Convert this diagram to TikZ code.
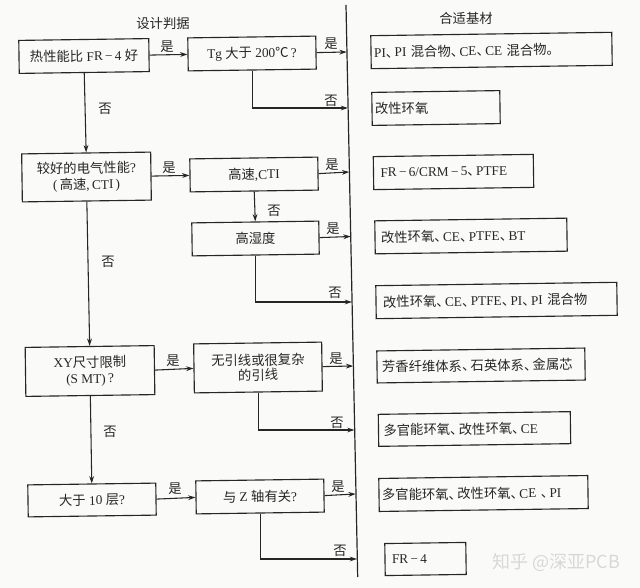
\documentclass[tikz,border=0pt]{standalone}
\usepackage{fontspec}
\setmainfont{Liberation Serif}
\newfontfamily\cjk{Noto Sans CJK SC}
\newfontfamily\wmfont{Noto Sans CJK SC}
\usetikzlibrary{arrows.meta}
\definecolor{ink}{HTML}{262626}
\definecolor{paper}{HTML}{FAFAF8}
\definecolor{wmark}{HTML}{D8D8D8}
\newcommand\zh[1]{{\cjk #1}}
\newcommand\dun{{\cjk 、}\kern-0.35em}
\tikzset{
  box/.style n args={2}{draw=ink,line width=0.85pt,rectangle,inner sep=0pt,rotate=0.8,align=center,text=ink,
    minimum width=#1*0.75pt,minimum height=#2*0.75pt,font=\fontsize{10}{12}\selectfont},
  rbox/.style n args={3}{draw=ink,line width=0.85pt,rectangle,inner ysep=0pt,inner xsep=#3*0.75pt,rotate=0.8,align=left,text=ink,
    text width=(#1-2*#3)*0.75pt,minimum height=#2*0.75pt,font=\fontsize{10}{12}\selectfont},
  lab/.style={text=ink,inner sep=0pt,font=\fontsize{10}{12}\selectfont},
  conn/.style={draw=ink,line width=0.8pt,-{Stealth[length=5.5pt,width=3.6pt]}},
  spine/.style={draw=ink,line width=0.9pt}
}
\begin{document}
\begin{tikzpicture}[x=0.75pt,y=-0.75pt]
\fill[paper] (0,0) rectangle (640,588);
\useasboundingbox (0,0) rectangle (640,588);
% headers
\node[lab] (h1) at (163,23) {\zh{设计判据}};
\node[lab] (h2) at (466,18) {\zh{合适基材}};
% spine
\coordinate (s0) at (346,5);
\coordinate (s10) at (357.7,577);
\draw[spine] (s0) -- (s10);
\coordinate (s1) at (346.7,52);
\coordinate (s2) at (348,108);
\coordinate (s3) at (349.3,172);
\coordinate (s4) at (350.7,236.5);
\coordinate (s5) at (352,302);
\coordinate (s6) at (353.3,366);
\coordinate (s7) at (354.5,430);
\coordinate (s8) at (355.7,494);
\coordinate (s9) at (357,559);
% decision boxes
\node[box={130}{33}] (a) at (84,56) {\zh{热性能比} FR\,−\,4 \zh{好}};
\node[box={128}{33}] (b) at (252,53.5) {Tg \zh{大于} 200\zh{℃}\,?};
\node[box={129}{48}] (c) at (86.5,177) {\zh{较好的电气性能}?\\(\,\zh{高速},\,CTI\,)};
\node[box={128}{33}] (d) at (254,174.5) {\zh{高速},CTI};
\node[box={127}{33}] (e) at (255.5,238.5) {\zh{高湿度}};
\node[box={129}{49}] (f) at (90,371) {XY\zh{尺寸限制}\\(S MT)\,?};
\node[box={128}{49}] (g) at (258,367.5) {\zh{无引线或很复杂}\\[-1pt]\zh{的引线}};
\node[box={128}{32}] (h) at (92,500) {\zh{大于} 10 \zh{层}?};
\node[box={128}{33}] (i) at (260,496.5) {\zh{与} Z \zh{轴有关}?};
% result boxes
\node[rbox={241}{33}{3}] (r1) at (491.5,50.5) {PI\dun PI \zh{混合物}\dun CE\dun CE \zh{混合物。}};
\node[rbox={128}{33}{3}] (r2) at (436,108) {\zh{改性环氧}};
\node[rbox={160}{33}{7}] (r3) at (453.5,172) {FR\,−\,6/CRM\,−\,5\dun PTFE};
\node[rbox={192}{33}{6}] (r4) at (471,236) {\zh{改性环氧}\dun CE\dun PTFE\dun BT};
\node[rbox={241}{33}{7}] (r5) at (496.5,300.5) {\zh{改性环氧}\dun CE\dun PTFE\dun PI\dun PI \zh{混合物}};
\node[rbox={208}{32}{5}] (r6) at (481,365.5) {\zh{芳香纤维体系}\dun\zh{石英体系}\dun\zh{金属芯}};
\node[rbox={192}{32}{5}] (r7) at (474.5,429) {\zh{多官能环氧}\dun\zh{改性环氧}\dun CE};
\node[rbox={209}{33}{3}] (r8) at (483.5,493.5) {\zh{多官能环氧}\dun\zh{改性环氧}\dun CE \dun PI};
\node[rbox={81}{32}{7}] (r9) at (425.5,559) {FR\,−\,4};
% connectors
\draw[conn] (a.east) -- (b.west);
\draw[conn] (b.east) -- (s1);
\draw[conn] (b.south) |- (s2);
\draw[conn] (a.south) -- (c.north);
\draw[conn] (c.east) -- (d.west);
\draw[conn] (d.east) -- (s3);
\draw[conn] (d.south) -- (e.north);
\draw[conn] (e.east) -- (s4);
\draw[conn] (e.south) |- (s5);
\draw[conn] (c.south) -- (f.north);
\draw[conn] (f.east) -- (g.west);
\draw[conn] (g.east) -- (s6);
\draw[conn] (g.south) |- (s7);
\draw[conn] (f.south) -- (h.north);
\draw[conn] (h.east) -- (i.west);
\draw[conn] (i.east) -- (s8);
\draw[conn] (i.south) |- (s9);
% labels
\node[lab] (l1) at (167,47) {\zh{是}};
\node[lab] (l2) at (331,44) {\zh{是}};
\node[lab] (l3) at (331,101) {\zh{否}};
\node[lab] (l4) at (105,109) {\zh{否}};
\node[lab] (l5) at (169,168) {\zh{是}};
\node[lab] (l6) at (332,165) {\zh{是}};
\node[lab] (l7) at (274,211) {\zh{否}};
\node[lab] (l8) at (333,229) {\zh{是}};
\node[lab] (l9) at (108,262) {\zh{否}};
\node[lab] (l10) at (335,293) {\zh{否}};
\node[lab] (l11) at (173,361) {\zh{是}};
\node[lab] (l12) at (336,359) {\zh{是}};
\node[lab] (l13) at (110,432) {\zh{否}};
\node[lab] (l14) at (337,423) {\zh{否}};
\node[lab] (l15) at (175,489) {\zh{是}};
\node[lab] (l16) at (338,487) {\zh{是}};
\node[lab] (l17) at (340,551) {\zh{否}};
% watermark
\node[text=wmark,inner sep=0pt,font=\fontsize{13.5}{15}\wmfont] (wm) at (556,562) {知乎 @深亚PCB};
\end{tikzpicture}
\end{document}
